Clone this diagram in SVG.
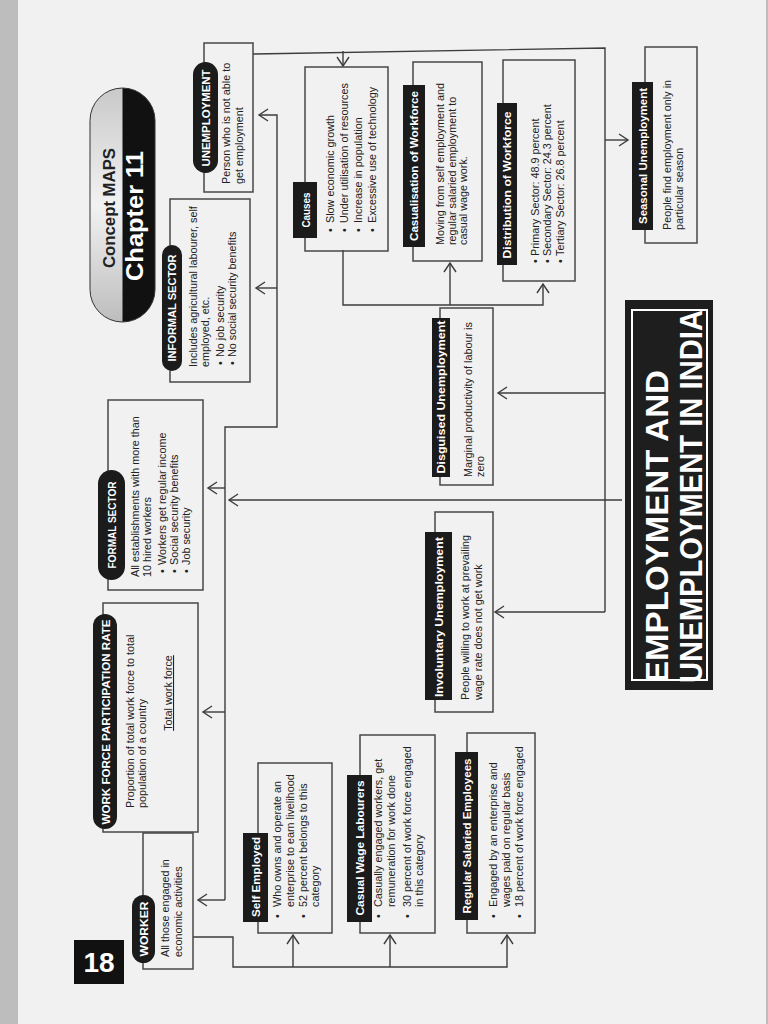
<svg xmlns="http://www.w3.org/2000/svg" width="768" height="1024" viewBox="0 0 768 1024">
<defs>
<style>
.box{fill:none;stroke:#474747;stroke-width:1.5}
.lbl{fill:#1b1b1b}
.lt{font-family:"Liberation Sans",Arial,sans-serif;font-weight:bold;font-size:11.5px;fill:#fff;text-anchor:middle}
.bt{font-family:"Liberation Sans",Arial,sans-serif;font-size:10.8px;fill:#222}
.ln{fill:none;stroke:#3c3c3c;stroke-width:1.4}
</style>
<marker id="arr" viewBox="-11 -8 13 16" markerWidth="13" markerHeight="16" refX="0" refY="0" orient="auto" markerUnits="userSpaceOnUse">
<path d="M-9,-6 L0,0 L-9,6" fill="none" stroke="#3c3c3c" stroke-width="1.4"/>
</marker>
<linearGradient id="cg" x1="0" y1="0" x2="0" y2="1">
<stop offset="0" stop-color="#c9c9c9"/>
<stop offset="0.5" stop-color="#f2f2f2"/>
<stop offset="1" stop-color="#bdbdbd"/>
</linearGradient>
<clipPath id="pillclip"><rect x="90" y="88" width="65" height="234" rx="32.5"/></clipPath>
</defs>
<rect x="0" y="0" width="768" height="1024" fill="#bdbdbd"/>
<rect x="18" y="0" width="748" height="1024" fill="#f1f1f1"/>

<g id="connectors">
<polyline class="ln" points="622,500 229,500" marker-end="url(#arr)"/>
<polyline class="ln" points="225,900 225,427 277,427 277,115 259,115" marker-end="url(#arr)"/>
<line class="ln" x1="225" y1="488" x2="208" y2="488" marker-end="url(#arr)"/>
<line class="ln" x1="225" y1="712" x2="203" y2="712" marker-end="url(#arr)"/>
<line class="ln" x1="225" y1="900" x2="198" y2="900" marker-end="url(#arr)"/>
<line class="ln" x1="277" y1="288" x2="256" y2="288" marker-end="url(#arr)"/>
<polyline class="ln" points="253,54 605,48 605,612"/>
<line class="ln" x1="343" y1="51" x2="343" y2="66" marker-end="url(#arr)"/>
<line class="ln" x1="605" y1="140" x2="628" y2="140" marker-end="url(#arr)"/>
<line class="ln" x1="605" y1="393" x2="498" y2="393" marker-end="url(#arr)"/>
<line class="ln" x1="605" y1="612" x2="495" y2="612" marker-end="url(#arr)"/>
<polyline class="ln" points="343,250 343,305 543,305 543,284" marker-end="url(#arr)"/>
<line class="ln" x1="450" y1="305" x2="450" y2="263" marker-end="url(#arr)"/>
<polyline class="ln" points="193,937 233,937 233,967 507,967 507,935" marker-end="url(#arr)"/>
<line class="ln" x1="293" y1="967" x2="293" y2="935" marker-end="url(#arr)"/>
<line class="ln" x1="390" y1="967" x2="390" y2="935" marker-end="url(#arr)"/>
</g>

<g id="page-number">
<rect x="74" y="940" width="50" height="44" fill="#111"/>
<text x="99" y="972" font-family="Liberation Sans,Arial,sans-serif" font-weight="bold" font-size="28" fill="#fff" text-anchor="middle">18</text>
</g>

<g id="concept-maps">
<g clip-path="url(#pillclip)">
<rect x="90" y="88" width="33" height="234" fill="url(#cg)"/>
<rect x="122.5" y="88" width="33" height="234" fill="#111"/>
</g>
<rect x="90" y="88" width="65" height="234" rx="32.5" fill="none" stroke="#333" stroke-width="1"/>
<text transform="translate(0,208) rotate(-90)" font-family="Liberation Sans,Arial,sans-serif" font-weight="bold" font-size="17" fill="#222" text-anchor="middle"><tspan x="0" y="115" textLength="120" lengthAdjust="spacingAndGlyphs">Concept MAPS</tspan></text>
<text transform="translate(0,216) rotate(-90)" font-family="Liberation Sans,Arial,sans-serif" font-weight="bold" font-size="23" fill="#fff" text-anchor="middle"><tspan x="0" y="143" textLength="130" lengthAdjust="spacingAndGlyphs">Chapter 11</tspan></text>
</g>

<g id="title">
<rect x="625" y="300" width="88" height="390" fill="#1e1e1e"/>
<rect x="632" y="310" width="75" height="370" fill="none" stroke="#fff" stroke-width="2"/>
<text transform="translate(0,683) rotate(-90)" font-family="Liberation Sans,Arial,sans-serif" font-weight="bold" font-size="32" fill="#fff"><tspan x="0" y="668" textLength="313" lengthAdjust="spacingAndGlyphs">EMPLOYMENT AND</tspan><tspan x="0" y="702" textLength="373" lengthAdjust="spacingAndGlyphs">UNEMPLOYMENT IN INDIA</tspan></text>
</g>

<g id="worker">
<rect class="box" x="143" y="833" width="50" height="136"/>
<rect class="lbl" x="132" y="895" width="23" height="68" rx="11.5"/>
<text class="lt" transform="translate(0,929) rotate(-90)"><tspan x="0" y="148" textLength="55" lengthAdjust="spacingAndGlyphs">WORKER</tspan></text>
<text class="bt" transform="translate(0,957) rotate(-90)"><tspan x="0" y="169">All those engaged in</tspan><tspan x="0" y="182">economic activities</tspan></text>
</g>

<g id="wfpr">
<rect class="box" x="103" y="603" width="95" height="229"/>
<rect class="lbl" x="93" y="614" width="24" height="215" rx="12"/>
<text class="lt" transform="translate(0,722) rotate(-90)"><tspan x="0" y="109.5" textLength="205" lengthAdjust="spacingAndGlyphs">WORK FORCE PARTICIPATION RATE</tspan></text>
<text class="bt" transform="translate(0,808) rotate(-90)"><tspan x="0" y="134">Proportion of total work force to total</tspan><tspan x="0" y="146">population of a country</tspan></text>
<text class="bt" transform="translate(0,693) rotate(-90)" text-anchor="middle" text-decoration="underline"><tspan x="0" y="172">Total work force</tspan></text>
</g>

<g id="formal">
<rect class="box" x="108" y="400" width="95" height="190"/>
<rect class="lbl" x="98" y="470" width="27" height="110" rx="13.5"/>
<text class="lt" transform="translate(0,525) rotate(-90)"><tspan x="0" y="116" textLength="87" lengthAdjust="spacingAndGlyphs">FORMAL SECTOR</tspan></text>
<text class="bt" transform="translate(0,577) rotate(-90)"><tspan x="0" y="139">All establishments with more than</tspan><tspan x="0" y="151">10 hired workers</tspan><tspan x="4" y="166">•</tspan><tspan x="12" y="166">Workers get regular income</tspan><tspan x="4" y="178">•</tspan><tspan x="12" y="178">Social security benefits</tspan><tspan x="4" y="190">•</tspan><tspan x="12" y="190">Job security</tspan></text>
</g>

<g id="informal">
<rect class="box" x="170" y="199" width="80" height="183"/>
<rect class="lbl" x="162" y="245" width="20" height="126" rx="10"/>
<text class="lt" transform="translate(0,308) rotate(-90)"><tspan x="0" y="176" textLength="107" lengthAdjust="spacingAndGlyphs">INFORMAL SECTOR</tspan></text>
<text class="bt" transform="translate(0,367) rotate(-90)"><tspan x="0" y="197">Includes agricultural labourer, self</tspan><tspan x="0" y="209">employed, etc.</tspan><tspan x="2" y="224">•</tspan><tspan x="10" y="224">No job security</tspan><tspan x="2" y="236">•</tspan><tspan x="10" y="236">No social security benefits</tspan></text>
</g>

<g id="unemployment">
<rect class="box" x="204" y="43" width="49" height="149"/>
<rect class="lbl" x="193" y="62" width="25" height="111" rx="12.5"/>
<text class="lt" transform="translate(0,118) rotate(-90)"><tspan x="0" y="210" textLength="97" lengthAdjust="spacingAndGlyphs">UNEMPLOYMENT</tspan></text>
<text class="bt" transform="translate(0,184) rotate(-90)"><tspan x="0" y="230">Person who is not able to</tspan><tspan x="0" y="243">get employment</tspan></text>
</g>

<g id="causes">
<rect class="box" x="305" y="67" width="83" height="184"/>
<rect class="lbl" x="293" y="182" width="24" height="56"/>
<text class="lt" transform="translate(0,210) rotate(-90)"><tspan x="0" y="309.5" textLength="35" lengthAdjust="spacingAndGlyphs">Causes</tspan></text>
<text class="bt" transform="translate(0,232) rotate(-90)"><tspan x="0" y="334">•</tspan><tspan x="9" y="334">Slow economic growth</tspan><tspan x="0" y="348">•</tspan><tspan x="9" y="348">Under utilisation of resources</tspan><tspan x="0" y="362">•</tspan><tspan x="9" y="362">Increase in population</tspan><tspan x="0" y="376">•</tspan><tspan x="9" y="376">Excessive use of technology</tspan></text>
</g>

<g id="casualisation">
<rect class="box" x="413" y="62" width="69" height="199"/>
<rect class="lbl" x="403" y="85" width="22" height="162"/>
<text class="lt" transform="translate(0,166) rotate(-90)"><tspan x="0" y="418" textLength="150" lengthAdjust="spacingAndGlyphs">Casualisation of Workforce</tspan></text>
<text class="bt" transform="translate(0,245) rotate(-90)"><tspan x="0" y="444">Moving from self employment and</tspan><tspan x="0" y="456">regular salaried employment to</tspan><tspan x="0" y="467">casual wage work.</tspan></text>
</g>

<g id="distribution">
<rect class="box" x="503" y="60" width="72" height="221"/>
<rect class="lbl" x="497" y="103" width="20" height="162"/>
<text class="lt" transform="translate(0,185) rotate(-90)"><tspan x="0" y="511" textLength="147" lengthAdjust="spacingAndGlyphs">Distribution of Workforce</tspan></text>
<text class="bt" transform="translate(0,263) rotate(-90)"><tspan x="0" y="539">•</tspan><tspan x="7" y="539">Primary Sector: 48.9 percent</tspan><tspan x="0" y="551">•</tspan><tspan x="7" y="551">Secondary Sector: 24.3 percent</tspan><tspan x="0" y="564">•</tspan><tspan x="7" y="564">Tertiary Sector: 26.8 percent</tspan></text>
</g>

<g id="seasonal">
<rect class="box" x="645" y="47" width="52" height="196"/>
<rect class="lbl" x="632" y="82" width="21" height="148"/>
<text class="lt" transform="translate(0,156) rotate(-90)"><tspan x="0" y="647" textLength="136" lengthAdjust="spacingAndGlyphs">Seasonal Unemployment</tspan></text>
<text class="bt" transform="translate(0,230) rotate(-90)"><tspan x="0" y="671">People find employment only in</tspan><tspan x="0" y="683">particular season</tspan></text>
</g>

<g id="disguised">
<rect class="box" x="440" y="308" width="53" height="177"/>
<rect class="lbl" x="432" y="318" width="18" height="159"/>
<text class="lt" transform="translate(0,397) rotate(-90)"><tspan x="0" y="445" textLength="153" lengthAdjust="spacingAndGlyphs">Disguised Unemployment</tspan></text>
<text class="bt" transform="translate(0,477) rotate(-90)"><tspan x="0" y="472">Marginal productivity of labour is</tspan><tspan x="0" y="484">zero</tspan></text>
</g>

<g id="involuntary">
<rect class="box" x="435" y="512" width="58" height="200"/>
<rect class="lbl" x="425" y="532" width="27" height="168"/>
<text class="lt" transform="translate(0,617) rotate(-90)"><tspan x="0" y="443" textLength="160" lengthAdjust="spacingAndGlyphs">Involuntary Unemployment</tspan></text>
<text class="bt" transform="translate(0,700) rotate(-90)"><tspan x="0" y="469">People willing to work at prevailing</tspan><tspan x="0" y="482">wage rate does not get work</tspan></text>
</g>

<g id="self-employed">
<rect class="box" x="258" y="763" width="74" height="170"/>
<rect class="lbl" x="243" y="833" width="25" height="89"/>
<text class="lt" transform="translate(0,877) rotate(-90)"><tspan x="0" y="260" textLength="80" lengthAdjust="spacingAndGlyphs">Self Employed</tspan></text>
<text class="bt" transform="translate(0,918) rotate(-90)"><tspan x="0" y="281">•</tspan><tspan x="11" y="281">Who owns and operate an</tspan><tspan x="11" y="294">enterprise to earn livelihood</tspan><tspan x="0" y="307">•</tspan><tspan x="11" y="307">52 percent belongs to this</tspan><tspan x="11" y="319">category</tspan></text>
</g>

<g id="casual-wage">
<rect class="box" x="360" y="735" width="75" height="198"/>
<rect class="lbl" x="347" y="775" width="25" height="147"/>
<text class="lt" transform="translate(0,848) rotate(-90)"><tspan x="0" y="364" textLength="135" lengthAdjust="spacingAndGlyphs">Casual Wage Labourers</tspan></text>
<text class="bt" transform="translate(0,918) rotate(-90)"><tspan x="0" y="382">•</tspan><tspan x="11" y="382">Casually engaged workers, get</tspan><tspan x="11" y="395">remuneration for work done</tspan><tspan x="0" y="411">•</tspan><tspan x="11" y="411">30 percent of work force engaged</tspan><tspan x="11" y="423">in this category</tspan></text>
</g>

<g id="regular-salaried">
<rect class="box" x="467" y="733" width="68" height="200"/>
<rect class="lbl" x="455" y="752" width="23" height="168"/>
<text class="lt" transform="translate(0,836) rotate(-90)"><tspan x="0" y="471" textLength="155" lengthAdjust="spacingAndGlyphs">Regular Salaried Employees</tspan></text>
<text class="bt" transform="translate(0,918) rotate(-90)"><tspan x="0" y="497">•</tspan><tspan x="11" y="497">Engaged by an enterprise and</tspan><tspan x="11" y="510">wages paid on regular basis</tspan><tspan x="0" y="523">•</tspan><tspan x="11" y="523">18 percent of work force engaged</tspan></text>
</g>
</svg>
